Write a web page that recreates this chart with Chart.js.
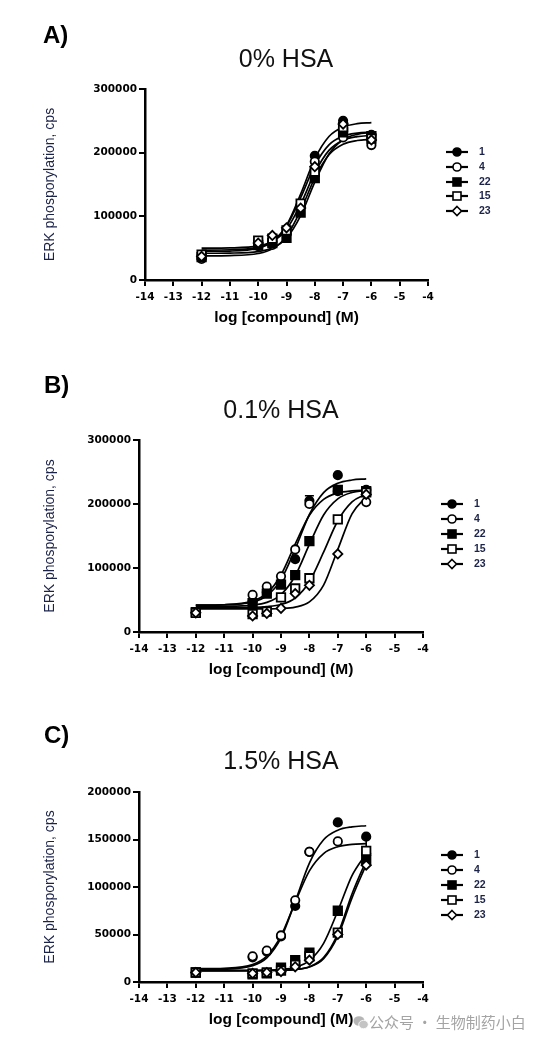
<!DOCTYPE html>
<html><head><meta charset="utf-8">
<script src="https://cdn.jsdelivr.net/npm/chart.js@4.4.1/dist/chart.umd.min.js"></script>
<style>
html,body{margin:0;padding:0;background:#fff;}
#page{position:relative;width:541px;height:1044px;overflow:hidden;font-family:"Liberation Sans",Arial,sans-serif;background:#fff;}
canvas{position:absolute;left:0;}
.letter{position:absolute;font-weight:bold;font-size:24px;line-height:24px;color:#000;}
.title{position:absolute;font-size:25px;line-height:25px;color:#111;text-align:center;width:300px;white-space:nowrap;}
.lrow{position:absolute;height:12px;}
.lrow svg{position:absolute;left:0;top:0;}
.lrow span{position:absolute;top:-1px;font-weight:bold;font-size:10.5px;line-height:12px;color:#1b2248;}
.wm{position:absolute;left:369px;top:1011px;font-family:"Noto Sans CJK SC",sans-serif;font-size:15px;line-height:22px;color:#a4a4a4;white-space:nowrap;}
</style></head>
<body><div id="page">
<canvas id="cA" width="541" height="345" style="top:0px"></canvas>
<canvas id="cB" width="541" height="345" style="top:350px"></canvas>
<canvas id="cC" width="541" height="344" style="top:700px"></canvas>
<div class="letter" style="left:43px;top:23px">A)</div>
<div class="letter" style="left:44px;top:373px">B)</div>
<div class="letter" style="left:44px;top:723px">C)</div>
<div class="title" style="left:136px;top:46px">0% HSA</div>
<div class="title" style="left:131px;top:397px">0.1% HSA</div>
<div class="title" style="left:131px;top:748px">1.5% HSA</div>
<div id="legA"></div><div id="legB"></div><div id="legC"></div>
<svg style="position:absolute;left:353px;top:1015px" width="16" height="15" viewBox="0 0 16 15">
<ellipse cx="6" cy="6" rx="5.5" ry="4.8" fill="#b5b5b5"/><ellipse cx="10.5" cy="9.5" rx="4.8" ry="4.2" fill="#c4c4c4" stroke="#fff" stroke-width="0.8"/></svg>
<div class="wm">公众号 · 生物制药小白</div>
</div>
<script>
// ---- data ----
const doses = [-12, -10, -9.5, -9, -8.5, -8, -7, -6];
const fitX = [-12, -11, -10, -9.5, -9, -8.5, -8, -7.5, -7, -6.5, -6];
const compounds = ['1', '4', '22', '15', '23'];
const xTicks = [-14, -13, -12, -11, -10, -9, -8, -7, -6, -5, -4];
const yTicksAB = [0, 100000, 200000, 300000];
const yTicksC = [0, 50000, 100000, 150000, 200000];

// Panel A: 0% HSA
const A_1  = [38000, 57000, 60000, 80000, 115000, 195000, 250000, 228000];
const A_4  = [33000, 53000, 55000, 72000, 118000, 186000, 224000, 212000];
const A_22 = [36000, 55000, 58000, 66000, 106000, 160000, 232000, 226000];
const A_15 = [40000, 62000, 65000, 78000, 120000, 170000, 240000, 222000];
const A_23 = [37000, 58000, 70000, 82000, 113000, 178000, 245000, 220000];
const A_fit_1  = [45100, 45500, 50000, 59900, 85800, 134900, 190200, 225300, 240200, 245500, 247200];
const A_fit_4  = [38000, 38400, 41600, 48900, 68500, 109200, 160500, 196800, 213200, 219100, 221100];
const A_fit_22 = [42000, 42300, 44700, 50200, 65600, 101000, 153800, 198000, 220400, 228800, 231700];
const A_fit_15 = [50000, 50400, 53500, 60600, 79500, 118900, 168500, 203600, 219500, 225200, 227100];
const A_fit_23 = [47000, 47500, 51600, 60700, 84300, 129300, 180000, 212200, 225900, 230700, 232300];
const A_err = [];

// Panel B: 0.1% HSA
const B_1  = [31000, 48000, 62000, 78000, 114000, 205000, 245000, 222000];
const B_4  = [30000, 58000, 71000, 87000, 129000, 200000, 220000, 203000];
const B_22 = [31000, 45000, 60000, 74000, 89000, 142000, 222000, 220000];
const B_15 = [30000, 28000, 32000, 54000, 68000, 84000, 176000, 218000];
const B_23 = [30000, 25000, 29000, 37000, 60000, 73000, 122000, 215000];
const B_fit_1  = [42000, 42500, 46900, 56600, 81800, 129700, 183600, 217800, 232400, 237500, 239200];
const B_fit_4  = [42100, 42600, 48200, 60200, 89100, 137200, 182400, 207300, 217100, 220400, 221500];
const B_fit_22 = [40000, 40200, 42000, 46300, 58500, 87900, 136800, 182800, 208000, 218000, 221400];
const B_fit_15 = [38000, 38100, 38500, 39600, 43000, 53100, 78500, 124700, 173800, 203400, 215700];
const B_fit_23 = [36000, 36000, 36000, 36200, 36700, 38900, 47000, 73300, 129000, 184700, 211000];
const B_err = [[-8, 200000, 213000]];

// Panel C: 1.5% HSA
const C_1  = [10000, 26000, 32000, 48000, 80000, 137000, 168000, 153000];
const C_4  = [10000, 27000, 33000, 49000, 86000, 137000, 148000, 135000];
const C_22 = [10000, 8000, 9000, 15000, 23000, 31000, 75000, 128000];
const C_15 = [10000, 9000, 10000, 12000, 18000, 27000, 52000, 138000];
const C_23 = [10000, 9000, 10000, 11000, 16000, 23000, 50000, 123000];
const C_fit_1  = [13000, 13400, 17200, 25400, 46400, 84600, 125200, 149700, 159800, 163300, 164500];
const C_fit_4  = [14000, 14500, 18500, 27300, 48600, 83800, 117000, 135200, 142400, 144800, 145600];
const C_fit_22 = [12000, 12000, 12100, 12400, 13100, 15500, 22600, 40700, 74700, 112000, 135200];
const C_fit_15 = [12000, 12000, 12000, 12100, 12300, 13200, 16100, 25600, 50700, 92600, 127900];
const C_fit_23 = [12000, 12000, 12000, 12100, 12300, 13100, 15800, 24600, 48200, 88600, 123600];
const C_err = [[-6, 137000, 152000]];

// ---- styles ----
const FAM = "'Liberation Sans', Arial, sans-serif";
const styles = [
  {ps: 'circle', r: 4.2, fill: '#000'},
  {ps: 'circle', r: 4.2, fill: '#fff'},
  {ps: 'rect', r: 6, fill: '#000'},
  {ps: 'rect', r: 6, fill: '#fff'},
  {ps: 'rectRot', r: 4.6, fill: '#fff'}
];

const errPlugin = {
  id: 'errbars',
  beforeDatasetsDraw(chart, args, opts) {
    const bars = opts.bars || [];
    const ctx = chart.ctx, xs = chart.scales.x, ys = chart.scales.y;
    ctx.save();
    ctx.strokeStyle = '#000'; ctx.lineWidth = 1.6;
    bars.forEach(b => {
      const px = xs.getPixelForValue(b[0]);
      const p0 = ys.getPixelForValue(b[1]);
      const p1 = ys.getPixelForValue(b[2]);
      ctx.beginPath();
      ctx.moveTo(px, p0); ctx.lineTo(px, p1);
      ctx.moveTo(px - 4.5, p1); ctx.lineTo(px + 4.5, p1);
      ctx.stroke();
    });
    ctx.restore();
  }
};

function build(id, cfg) {
  const datasets = [];
  cfg.fits.forEach(f => datasets.push({
    data: fitX.map((x, j) => ({x: x, y: f[j]})),
    showLine: true, borderColor: '#000', borderWidth: 1.7, pointRadius: 0,
    cubicInterpolationMode: 'monotone', fill: false, order: 10
  }));
  cfg.pts.forEach((s, i) => datasets.push({
    label: compounds[i],
    data: doses.map((x, j) => ({x: x, y: s[j]})),
    showLine: false, pointStyle: styles[i].ps, pointRadius: styles[i].r,
    backgroundColor: styles[i].fill, borderColor: '#000', borderWidth: 1.8,
    order: 5 - i
  }));
  const a = cfg.area;
  const tickFont = {family: "'DejaVu Sans', sans-serif", size: 10.5, weight: 'bold'};
  new Chart(document.getElementById(id), {
    type: 'scatter',
    data: {datasets},
    plugins: [errPlugin],
    options: {
      responsive: false, animation: false, events: [],
      layout: {padding: {left: 42, top: a.t - cfg.top, right: 541 - a.r, bottom: cfg.top + cfg.h - a.b - 47}},
      plugins: {legend: {display: false}, tooltip: {enabled: false}, errbars: {bars: cfg.err}},
      scales: {
        x: {
          type: 'linear', min: -14, max: -4,
          afterBuildTicks: s => { s.ticks = xTicks.map(v => ({value: v})); },
          afterFit: s => { s.height = 47; },
          ticks: {font: tickFont, color: '#000', padding: 5, maxRotation: 0, autoSkip: false, callback: v => String(v)},
          grid: {display: true, drawOnChartArea: false, drawTicks: true, tickLength: 6, color: '#000', lineWidth: 2},
          border: {display: true, color: '#000', width: 2.5},
          title: {display: true, text: 'log [compound] (M)', color: '#000', padding: 0,
                  font: {family: FAM, size: 15.5, weight: 'bold'}}
        },
        y: {
          type: 'linear', min: 0, max: cfg.yTicks[cfg.yTicks.length - 1],
          afterBuildTicks: s => { s.ticks = cfg.yTicks.map(v => ({value: v})); },
          afterFit: s => { s.width = a.l - 42; },
          ticks: {font: tickFont, color: '#000', padding: 2, autoSkip: false, callback: v => String(v)},
          grid: {display: true, drawOnChartArea: false, drawTicks: true, tickLength: 6, color: '#000', lineWidth: 2},
          border: {display: true, color: '#000', width: 2.5},
          title: {display: true, text: 'ERK phosporylation, cps', color: '#1b2248', padding: 0,
                  font: {family: FAM, size: 14, weight: 'normal'}}
        }
      }
    }
  });
}

function legend(elId, lineLeft, labelLeft, top0, step) {
  const host = document.getElementById(elId);
  const marks = [
    '<circle cx="11" cy="6" r="4" fill="#000" stroke="#000" stroke-width="1.6"/>',
    '<circle cx="11" cy="6" r="4" fill="#fff" stroke="#000" stroke-width="1.6"/>',
    '<rect x="7" y="2" width="8" height="8" fill="#000" stroke="#000" stroke-width="1.6"/>',
    '<rect x="7" y="2" width="8" height="8" fill="#fff" stroke="#000" stroke-width="1.6"/>',
    '<polygon points="11,1.5 15.5,6 11,10.5 6.5,6" fill="#fff" stroke="#000" stroke-width="1.6"/>'
  ];
  compounds.forEach((c, i) => {
    const row = document.createElement('div');
    row.className = 'lrow';
    row.style.left = lineLeft + 'px';
    row.style.top = (top0 + i * step - 6) + 'px';
    row.innerHTML = '<svg width="23" height="12" viewBox="0 0 23 12"><line x1="0" y1="6" x2="22" y2="6" stroke="#000" stroke-width="2.2"/>' +
      marks[i] + '</svg><span style="left:' + (labelLeft - lineLeft) + 'px">' + c + '</span>';
    host.appendChild(row);
  });
}

build('cA', {top: 0, h: 345, area: {l: 145, r: 428, t: 89, b: 280},
  pts: [A_1, A_4, A_22, A_15, A_23], fits: [A_fit_1, A_fit_4, A_fit_22, A_fit_15, A_fit_23],
  yTicks: yTicksAB, err: A_err});
build('cB', {top: 350, h: 345, area: {l: 139, r: 423, t: 440, b: 632},
  pts: [B_1, B_4, B_22, B_15, B_23], fits: [B_fit_1, B_fit_4, B_fit_22, B_fit_15, B_fit_23],
  yTicks: yTicksAB, err: B_err});
build('cC', {top: 700, h: 344, area: {l: 139, r: 423, t: 792, b: 982},
  pts: [C_1, C_4, C_22, C_15, C_23], fits: [C_fit_1, C_fit_4, C_fit_22, C_fit_15, C_fit_23],
  yTicks: yTicksC, err: C_err});

legend('legA', 446, 479, 152, 14.75);
legend('legB', 441, 474, 503.5, 15);
legend('legC', 441, 474, 854.5, 15.1);
</script>
</body></html>
